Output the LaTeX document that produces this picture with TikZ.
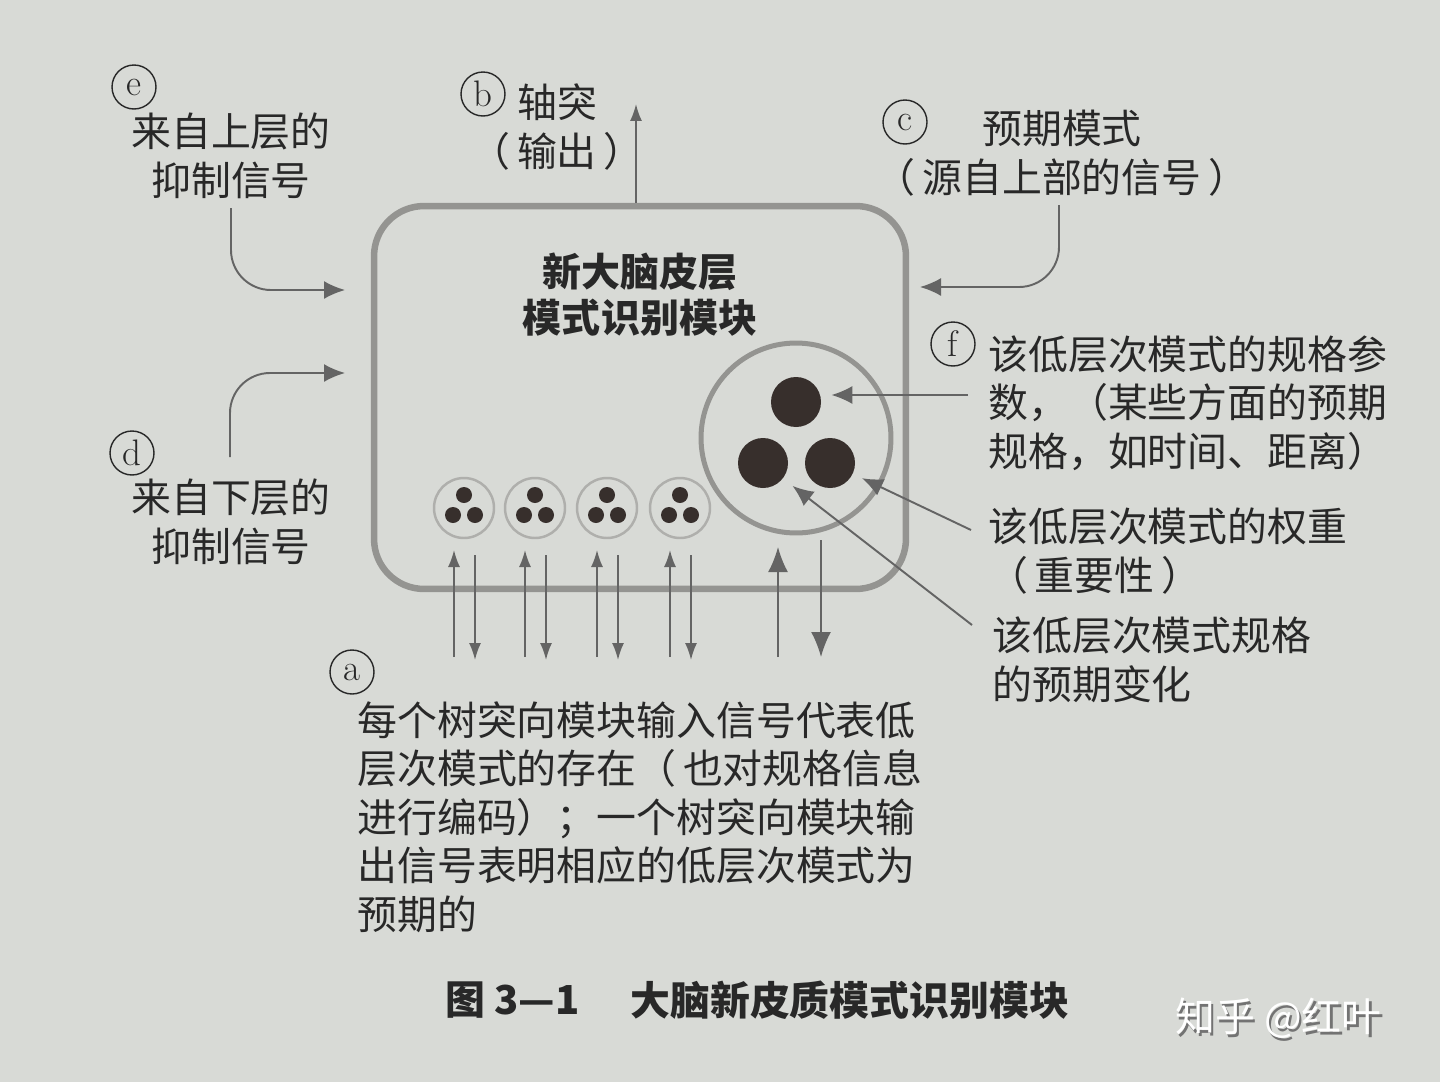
\documentclass[tikz,border=0pt]{standalone}
\usepackage{fontspec}
\usepackage{tikz}
\usetikzlibrary{arrows.meta}
\newfontfamily\cjk{Noto Sans CJK SC}

\definecolor{paper}{RGB}{216,218,214}
\definecolor{ink}{RGB}{40,40,40}
\definecolor{wire}{RGB}{100,100,100}
\definecolor{rim}{RGB}{148,148,145}
\definecolor{seedc}{RGB}{55,47,44}

\begin{document}
\begin{tikzpicture}[
        x=0.02cm, y=-0.02cm,
        letter/.style={circle,draw=ink,line width=0.8pt,inner sep=0pt,minimum size=0.88cm,
                       font=\fontsize{21}{21}\selectfont,text=ink},
        words/.style={inner sep=0pt,text=ink,font=\cjk\fontsize{22.7}{27.6}\selectfont},
        heading/.style={words,font=\cjk\bfseries\fontsize{22.2}{26.2}\selectfont},
        sig/.style={draw=wire,line width=1.1pt,-{Latex[length=0.42cm,width=0.36cm]}},
        thin sig/.style={draw=wire,line width=1pt,-{Latex[length=0.34cm,width=0.24cm]}},
        big sig/.style={draw=wire,line width=1.1pt,-{Latex[length=0.5cm,width=0.4cm]}},
        cell/.style={circle,draw=rim!75,line width=1.4pt,minimum size=1.2cm,inner sep=0pt},
        seed/.style={circle,fill=seedc,minimum size=0.32cm,inner sep=0pt}
    ]
        \fill[paper] (0,0) rectangle (1440,1082);
        \useasboundingbox (0,0) rectangle (1440,1082);

        % the module
        \node[draw=rim,line width=0.13cm,rounded corners=1cm,
              minimum width=10.64cm,minimum height=7.66cm] (module) at (640,397.5) {};
        \node[heading,align=center] (name) at (640,295) {新大脑皮层\\模式识别模块};

        % dendrite inputs
        \foreach \x [count=\i] in {464,535,607,680} {
            \node[cell] (cell\i) at (\x,508) {};
            \node[seed] (cell\i-t) at (\x,495) {};
            \node[seed] (cell\i-l) at (\x-11,515) {};
            \node[seed] (cell\i-r) at (\x+11,515) {};
            \coordinate (in\i) at (\x-10,657);
            \coordinate (out\i) at (\x+11,555);
            \draw[thin sig] (in\i) -- ++(0,-107);
            \draw[thin sig] (out\i) -- ++(0,105);
        }

        \node[cell,draw=rim,line width=0.1cm,minimum size=3.8cm] (pool) at (796,438) {};
        \node[seed,minimum size=1cm] (dotTop) at (796,402) {};
        \node[seed,minimum size=1cm] (dotLeft) at (763,463) {};
        \node[seed,minimum size=1cm] (dotRight) at (830,463) {};
        \coordinate (inBig) at (778,657);
        \coordinate (outBig) at (821,540);
        \draw[big sig] (inBig) -- ++(0,-110);
        \draw[big sig] (outBig) -- ++(0,117);

        % e
        \node[letter] (e) at (134,87) {e};
        \node[words,align=center] (upperText) at (231,156) {来自上层的\\抑制信号};
        \coordinate (eFrom) at (231,208);
        \coordinate (eTo) at (345,290);
        \draw[sig,rounded corners=0.8cm] (eFrom) |- (eTo);

        % d
        \node[letter] (d) at (132,453) {d};
        \node[words,align=center] (lowerText) at (231,522) {来自下层的\\抑制信号};
        \coordinate (dFrom) at (230,457);
        \coordinate (dTo) at (345,373);
        \draw[sig,rounded corners=0.8cm] (dFrom) |- (dTo);

        % b
        \node[letter] (b) at (483,94) {b};
        \node[words,align=center] (axonText) at (557,127) {轴突\\（\,输出\,）};
        \coordinate (bTo) at (636,104);
        \draw[thin sig] (module.north -| bTo) -- (bTo);

        % c
        \node[letter] (c) at (905,122) {c};
        \node[words,align=center] (expectText) at (1062,153) {预期模式\\（\,源自上部的信号\,）};
        \coordinate (cFrom) at (1059,205);
        \coordinate (cTo) at (920,287);
        \draw[sig,rounded corners=0.8cm] (cFrom) |- (cTo);

        % f and the pattern parameters
        \node[letter] (f) at (953,344) {f};
        \node[words,align=left,anchor=west] (paramText) at (988,403)
            {该低层次模式的规格参\\数，（某些方面的预期\\规格，如时间、距离）};
        \coordinate (fFrom) at (968,395);
        \draw[sig,shorten >=0.2cm] (fFrom) -- (fFrom -| dotTop.east);

        \node[words,align=left,anchor=west] (weightText) at (988,551)
            {该低层次模式的权重\\（\,重要性\,）};
        \coordinate (wFrom) at (971,530);
        \draw[sig,shorten >=0.2cm] (wFrom) -- (dotRight);

        \node[words,align=left,anchor=west] (shiftText) at (992,660)
            {该低层次模式规格\\的预期变化};
        \coordinate (sFrom) at (972,625);
        \draw[sig,shorten >=0.24cm] (sFrom) -- (dotLeft);

        % a
        \node[letter] (a) at (352,672) {a};
        \node[words,align=left,anchor=west] (dendriteText) at (357,817)
            {每个树突向模块输入信号代表低\\层次模式的存在（\,也对规格信息\\进行编码）；一个树突向模块输\\出信号表明相应的低层次模式为\\预期的};

        % caption
        \node[heading,anchor=west,font=\cjk\bfseries\fontsize{22.7}{26.2}\selectfont] (capNo) at (445,1000) {图 3—1};
        \node[heading,anchor=west,font=\cjk\bfseries\fontsize{22.7}{26.2}\selectfont] (capText) at (630,1000) {大脑新皮质模式识别模块};

        \node[words,anchor=west] (mark) at (1175,1020)
            {\rlap{\hspace{0.05cm}\raisebox{-0.06cm}{\color{black!55}知乎 @红叶}}\color{white}知乎 @红叶};
    \end{tikzpicture}
\end{document}
